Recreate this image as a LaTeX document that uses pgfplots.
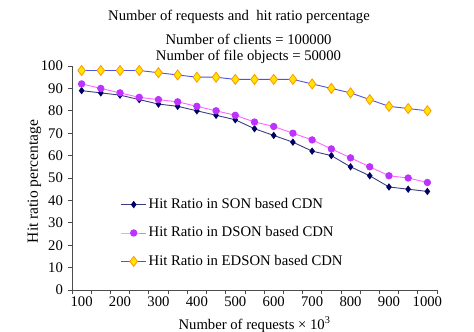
\documentclass[border=0pt]{standalone}
\usepackage{fontspec}
\setmainfont{Liberation Serif}
\usepackage{pgfplots}
\pgfplotsset{compat=1.18}
\definecolor{sonline}{RGB}{60,60,130}
\definecolor{sonmark}{RGB}{0,0,100}
\definecolor{dsonline}{RGB}{255,102,255}
\definecolor{dsonmark}{RGB}{190,50,255}
\definecolor{edline}{RGB}{80,80,230}
\definecolor{edfill}{RGB}{255,230,0}
\definecolor{eddraw}{RGB}{255,150,0}
\newcommand{\fs}{\fontsize{14.7}{17}\selectfont}
\begin{document}
\fs
\begin{tikzpicture}[x=1pt,y=1pt]
\path[use as bounding box] (-72,-42) rectangle (402,290);
\begin{axis}[
  at={(0,0)}, anchor=south west,
  scale only axis, width=365pt, height=224pt,
  xmin=75, xmax=1025, ymin=0, ymax=100,
  axis x line*=bottom, axis y line*=left,
  axis line style={draw=black!70, line width=0.8pt},
  xtick={75,125,...,1025}, xticklabel=\empty,
  extra x ticks={100,200,300,400,500,600,700,800,900,1000},
  extra x tick labels={100,200,300,400,500,600,700,800,900,1000},
  extra x tick style={major tick length=0pt},
  ytick={0,10,...,100},
  tick align=outside, major tick length=4pt,
  tick style={draw=black!70, line width=0.7pt},
  tick label style={font=\fs},
  /pgf/number format/assume math mode=true,
  xticklabel style={yshift=-2pt},
  clip=false,
  legend style={draw=none, fill=none, at={(axis description cs:0.133,0.2545)}, anchor=west,
    font=\fs, row sep=12pt, inner xsep=0pt,
    nodes={inner xsep=2pt}},
  legend cell align=left,
  legend image code/.code={\draw[mark repeat=2,mark phase=2,#1] plot coordinates {(0pt,0pt) (12.5pt,0pt) (25pt,0pt)};},
]
\addplot[sonline, line width=0.9pt, mark=diamond*, mark size=3pt, mark options={fill=sonmark, draw=sonmark}] coordinates {
(100,89)(150,88)(200,87)(250,85)(300,83)(350,82)(400,80)(450,78)(500,76)(550,72)
(600,69)(650,66)(700,62)(750,60)(800,55)(850,51)(900,46)(950,45)(1000,44)};
\addlegendentry{Hit Ratio in SON based CDN}
\addplot[dsonline, line width=0.9pt, mark=*, mark size=3.2pt, mark options={fill=dsonmark, draw=dsonmark}] coordinates {
(100,92)(150,90)(200,88)(250,86)(300,85)(350,84)(400,82)(450,80)(500,78)(550,75)
(600,73)(650,70)(700,67)(750,63)(800,59)(850,55)(900,51)(950,50)(1000,48)};
\addlegendentry{Hit Ratio in DSON based CDN}
\addplot[edline, line width=0.9pt, mark=diamond*, mark size=5pt, mark options={fill=edfill, draw=eddraw, line width=0.8pt}] coordinates {
(100,98)(150,98)(200,98)(250,98)(300,97)(350,96)(400,95)(450,95)(500,94)(550,94)
(600,94)(650,94)(700,92)(750,90)(800,88)(850,85)(900,82)(950,81)(1000,80)};
\addlegendentry{Hit Ratio in EDSON based CDN}
\end{axis}
\node[anchor=base] at (167,269.3) {Number of requests and\ \ hit ratio percentage};
\node[anchor=base] at (176.5,245) {Number of clients = 100000};
\node[anchor=base] at (176.5,229) {Number of file objects = 50000};
\node[anchor=base] at (182.5,-39) {Number of requests × 10\textsuperscript{3}};
\node[anchor=base, rotate=90] at (-34,108.5) {\fontsize{15.5}{17}\selectfont Hit ratio percentage};
\end{tikzpicture}
\end{document}
